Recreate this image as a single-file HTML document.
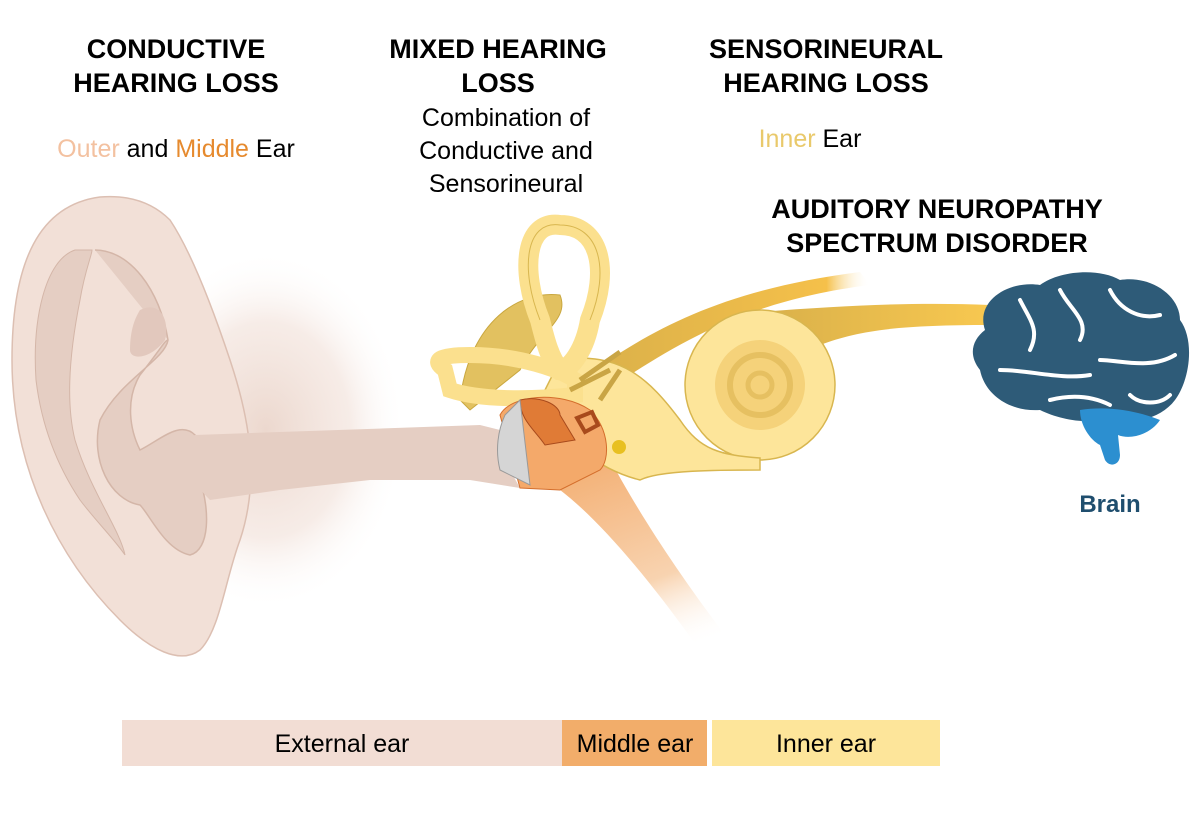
<!DOCTYPE html>
<html><head><meta charset="utf-8"><style>
body{margin:0;background:#fff;width:1200px;height:818px;overflow:hidden}
svg{display:block}
text{font-family:"Liberation Sans",sans-serif}
.h{font-weight:bold;font-size:27px;fill:#000;text-anchor:middle}
.s{font-size:25px;fill:#000;text-anchor:middle}
</style></head><body>
<svg width="1200" height="818" viewBox="0 0 1200 818">
<defs>
<radialGradient id="blur" cx="0.45" cy="0.5" r="0.5">
<stop offset="0" stop-color="#ecd8ce"/><stop offset="0.6" stop-color="#f3e4dd" stop-opacity="0.7"/><stop offset="1" stop-color="#fff" stop-opacity="0"/></radialGradient>
<linearGradient id="nerve" x1="0" x2="1"><stop offset="0" stop-color="#d9b04a"/><stop offset="0.85" stop-color="#f5c04a"/><stop offset="1" stop-color="#fff" stop-opacity="0"/></linearGradient>
<linearGradient id="nerve2" x1="0" x2="1"><stop offset="0" stop-color="#d9b04a"/><stop offset="1" stop-color="#f8c850"/></linearGradient>
<linearGradient id="tube" x1="0" y1="0" x2="0.4" y2="1"><stop offset="0" stop-color="#f2a460"/><stop offset="0.7" stop-color="#f8d3b0"/><stop offset="1" stop-color="#fff" stop-opacity="0"/></linearGradient>
</defs>
<ellipse cx="280" cy="430" rx="140" ry="180" fill="url(#blur)"/>
<path d="M100 197 C40 205 12 260 12 360 C12 470 60 560 120 620 C150 650 180 665 200 650 C220 630 225 580 240 540 C260 480 250 420 230 360 C210 300 190 250 170 220 C150 200 125 195 100 197Z" fill="#f2e0d7" stroke="#dcbfb2" stroke-width="1.5"/>
<path d="M75 250 C45 260 32 320 36 380 C42 430 60 470 80 500 C95 520 115 540 125 555 C120 530 90 490 75 440 C65 400 70 350 80 300 C85 270 92 255 92 250Z" fill="#e5cec3" stroke="#d4b6a8"/>
<path d="M95 250 C130 250 160 290 168 340 C165 360 120 380 100 420 C90 460 110 500 140 505 C150 515 165 550 190 555 C210 550 210 510 200 480 L185 450 L195 435 C180 420 160 440 140 450 C130 430 125 400 140 375 C160 350 165 340 168 340" fill="#e5cec3" stroke="#d4b6a8" stroke-width="1.5"/>
<path d="M140 310 C160 300 170 320 165 340 C150 360 130 360 130 350 C130 330 135 318 140 310Z" fill="#e2c8bd"/>
<path d="M180 440 L195 435 L480 425 L500 430 L510 470 L520 488 L470 480 L370 480 L280 490 L210 500 C190 480 180 460 180 440Z" fill="#e5cec3"/>
<path d="M510 460 L600 440 C630 500 680 580 760 680 L720 680 C660 590 600 520 560 490Z" fill="url(#tube)"/>
<path d="M580 380 C650 330 720 290 860 272 L870 285 C750 300 680 340 600 395Z" fill="url(#nerve)"/>
<path d="M760 312 C850 305 920 302 990 305 L990 325 C900 325 860 330 820 345 Z" fill="url(#nerve2)"/>
<circle cx="760" cy="385" r="75" fill="#fde59a" stroke="#d8b64f" stroke-width="1.5"/>
<circle cx="760" cy="385" r="45" fill="#f5d27a"/>
<circle cx="760" cy="385" r="30" fill="none" stroke="#e6c061" stroke-width="6"/>
<circle cx="760" cy="385" r="12" fill="none" stroke="#e6c061" stroke-width="5"/>
<path d="M560 360 C620 350 650 380 680 420 C700 450 720 455 760 458 L760 470 C720 470 660 470 640 480 C600 470 560 440 540 400Z" fill="#fde59a" stroke="#d8b64f" stroke-width="1.5"/>
<path d="M460 400 C470 320 520 290 560 295 C570 320 540 330 520 370 L470 410Z" fill="#e2c160" stroke="#c9a73f"/>
<path d="M540 320 C520 270 525 220 560 225 C600 225 610 270 590 320 C585 350 570 370 560 370 C550 360 545 340 540 320Z" fill="none" stroke="#fbe08e" stroke-width="20"/>
<path d="M540 320 C520 270 525 220 560 225 C600 225 610 270 590 320" fill="none" stroke="#d8b64f" stroke-width="1"/>
<path d="M445 370 C430 360 440 355 470 355 C520 355 560 370 575 380 L575 395 C530 400 480 400 450 390Z" fill="none" stroke="#fbe08e" stroke-width="16"/>
<circle cx="619" cy="447" r="7" fill="#e8c021"/>
<path d="M580 380 L620 352 M570 390 L610 370 M600 400 L620 370" stroke="#c9a545" stroke-width="5"/>
<path d="M500 415 C510 395 560 390 590 410 C610 430 610 460 600 470 L560 490 L520 488Z" fill="#f4a96a" stroke="#d46e2c"/>
<path d="M520 400 C540 395 560 405 560 415 L575 440 L545 445 C535 430 520 420 520 400Z" fill="#e07b36" stroke="#a84a1c"/>
<path d="M577 418 L592 412 L598 425 L585 432Z" fill="none" stroke="#a84a1c" stroke-width="4"/>
<path d="M505 415 L520 400 L530 485 L500 470 C495 450 498 430 505 415Z" fill="#d5d5d5" stroke="#999"/>
<g>
<path d="M985 330 C975 300 1010 280 1040 285 C1060 270 1100 268 1120 280 C1150 275 1180 295 1180 320 C1195 340 1190 380 1175 400 C1160 420 1130 425 1110 418 C1090 425 1060 420 1040 410 C1010 412 985 395 980 370 C968 355 972 340 985 330Z" fill="#2e5b78"/>
<path d="M1080 410 C1080 425 1090 440 1100 445 L1105 460 C1110 468 1120 465 1120 455 L1118 435 C1130 440 1150 435 1160 420 C1140 412 1110 405 1080 410Z" fill="#2c8fd0"/>
<path d="M1020 300 C1030 320 1040 330 1030 350 M1060 290 C1070 310 1090 320 1080 340 M1110 290 C1120 310 1140 320 1160 315 M1000 370 C1030 370 1060 380 1090 375 M1100 360 C1120 360 1150 370 1175 355 M1050 400 C1070 395 1090 395 1110 405 M1130 395 C1140 405 1160 405 1170 395" stroke="#fff" stroke-width="4" fill="none" stroke-linecap="round"/>
</g>
<text class="h" x="176" y="58">CONDUCTIVE</text>
<text class="h" x="176" y="92">HEARING LOSS</text>
<text class="s" x="176" y="157"><tspan fill="#f3c1a0">Outer</tspan> and <tspan fill="#e68a2e">Middle</tspan> Ear</text>
<text class="h" x="498" y="58">MIXED HEARING</text>
<text class="h" x="498" y="92">LOSS</text>
<text class="s" x="506" y="126">Combination of</text>
<text class="s" x="506" y="159">Conductive and</text>
<text class="s" x="506" y="192">Sensorineural</text>
<text class="h" x="826" y="58">SENSORINEURAL</text>
<text class="h" x="826" y="92">HEARING LOSS</text>
<text class="s" x="810" y="147"><tspan fill="#e9c96b">Inner</tspan> Ear</text>
<text class="h" x="937" y="218">AUDITORY NEUROPATHY</text>
<text class="h" x="937" y="252">SPECTRUM DISORDER</text>
<text x="1110" y="512" text-anchor="middle" font-weight="bold" font-size="24" fill="#1f4e6e">Brain</text>
<rect x="122" y="720" width="440" height="46" fill="#f2ddd4"/>
<rect x="562" y="720" width="145" height="46" fill="#f2ad6a"/>
<rect x="712" y="720" width="228" height="46" fill="#fde59a"/>
<text class="s" x="342" y="752" font-size="23">External ear</text>
<text class="s" x="635" y="752" font-size="23">Middle ear</text>
<text class="s" x="826" y="752" font-size="23">Inner ear</text>
</svg>
</body></html>
